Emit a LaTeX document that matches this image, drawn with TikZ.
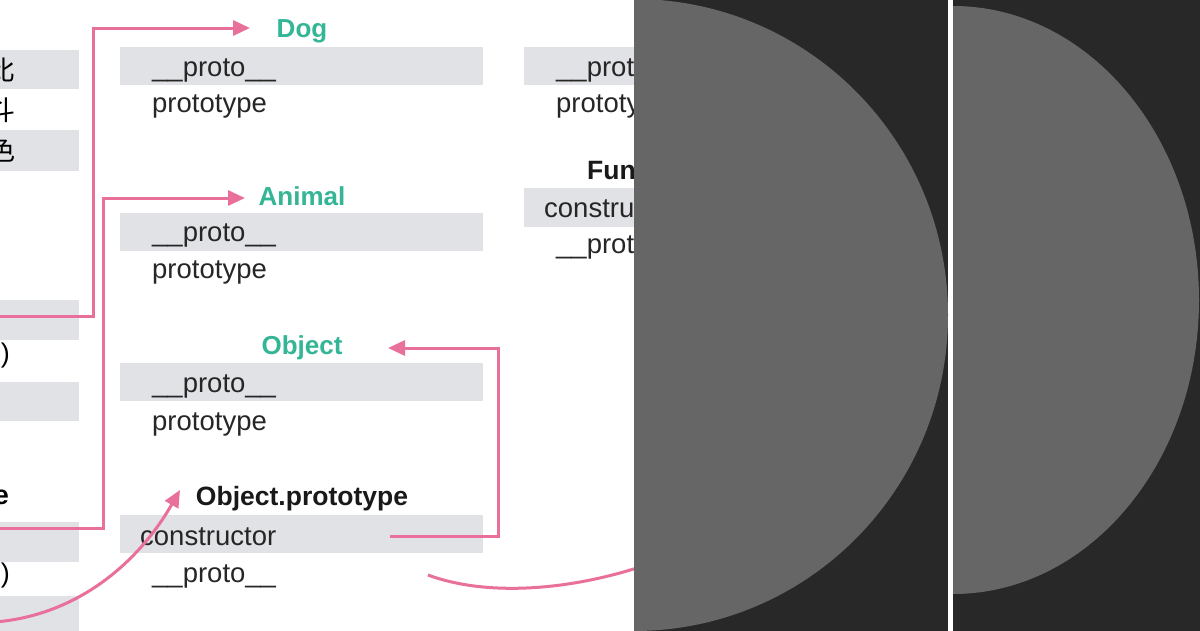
\documentclass[tikz,border=0pt]{standalone}
\usepackage{fontspec}
\setmainfont{Liberation Sans}
\newfontfamily\cjk{Noto Sans CJK SC}
\usetikzlibrary{arrows.meta}
\definecolor{barg}{HTML}{E1E2E5}
\definecolor{teal}{HTML}{33B596}
\definecolor{pinkl}{HTML}{E8709A}
\definecolor{darkbg}{HTML}{282828}
\definecolor{semig}{HTML}{666666}
\tikzset{
  bar/.style={fill=barg,draw=none},
  txt/.style={anchor=west,inner sep=0pt,font=\fontsize{27.5}{27}\selectfont,text=black!85},
  ttl/.style={inner sep=0pt,font=\fontsize{26}{26}\selectfont\bfseries,text=teal},
  btl/.style={inner sep=0pt,font=\fontsize{26.5}{26}\selectfont\bfseries,text=black!90},
  link/.style={draw=pinkl,line width=3pt,-{Triangle[length=17pt,width=15pt]}},
  linkn/.style={draw=pinkl,line width=3pt}
}
\begin{document}
\begin{tikzpicture}[x=1pt,y=-1pt]
\useasboundingbox (0,0) rectangle (1200,630);
\fill[white] (0,0) rectangle (1200,630);
% left column bars
\foreach \a/\b in {50/89,130/171,300/340,382/421,522/562,596/640}
  \fill[barg] (-5,\a) rectangle (79,\b);
% middle bars
\foreach \a/\b in {47/85,213/251,363/401,515/553}
  \fill[barg] (120,\a) rectangle (483,\b);
% right bars
\fill[barg] (524,47) rectangle (640,85);
\fill[barg] (524,188) rectangle (640,227);
% left column partial texts
\node[anchor=east,inner sep=0pt,font=\cjk\fontsize{27}{27}\selectfont] (l1) at (16,70) {比};
\node[anchor=east,inner sep=0pt,font=\cjk\fontsize{27}{27}\selectfont] (l2) at (16,110) {斗};
\node[anchor=east,inner sep=0pt,font=\cjk\fontsize{27}{27}\selectfont] (l3) at (16,150) {色};
\node[anchor=east,inner sep=0pt,font=\fontsize{27}{27}\selectfont] (l4) at (10,356) {)};
\node[anchor=east,inner sep=0pt,font=\fontsize{27}{27}\selectfont\bfseries] (l5) at (9,497) {e};
\node[anchor=east,inner sep=0pt,font=\fontsize{27}{27}\selectfont] (l6) at (10,576) {)};
% titles
\node[ttl] (dog) at (302,31) {Dog};
\node[ttl] (animal) at (302,196) {Animal};
\node[ttl] (object) at (302,348) {Object};
\node[btl] (objp) at (302,499) {Object.prototype};
% middle texts
\node[txt] (d1) at (152,70) {\_\_proto\_\_};
\node[txt] (d2) at (152,106) {prototype};
\node[txt] (a1) at (152,235) {\_\_proto\_\_};
\node[txt] (a2) at (152,272) {prototype};
\node[txt] (o1) at (152,386) {\_\_proto\_\_};
\node[txt] (o2) at (152,424) {prototype};
\node[txt] (c1) at (140,537) {constructor};
\node[txt] (c2) at (152,576) {\_\_proto\_\_};
% right texts (cut by panel)
\node[txt] (r1) at (556,70) {\_\_proto\_\_};
\node[txt] (r2) at (556,106) {prototype};
\node[btl,anchor=west] (fn) at (587,170) {Function};
\node[txt] (r3) at (544,209) {constructor};
\node[txt] (r4) at (556,247) {\_\_proto\_\_};
% connectors
\coordinate (s1) at (-5,316);
\coordinate (s2) at (-5,528);
\coordinate (s4) at (-5,622);
\coordinate (s5) at (428,575);
\coordinate (e5) at (660,560);
\coordinate (cs) at (390,536);
\draw[link] (s1) -| (93,28) -- (250,28);
\draw[link] (s2) -| (103,198) -- (245,198);
\draw[link] (cs) -| (498,348) -- (388,348);
\draw[link] (s4) .. controls (80,615) and (140,560) .. (180,490);
\draw[linkn] (s5) .. controls (490,598) and (580,590) .. (e5);
% dark panel
\fill[darkbg] (634,-2) rectangle (1202,632);
\fill[white] (948,-2) rectangle (953,632);
\begin{scope}
\clip (634,-2) rectangle (948,632);
\fill[semig] (634,315) ellipse[x radius=314,y radius=316];
\end{scope}
\begin{scope}
\clip (953,-2) rectangle (1202,632);
\fill[semig] (953,300) ellipse[x radius=246,y radius=294];
\end{scope}
\end{tikzpicture}
\end{document}
